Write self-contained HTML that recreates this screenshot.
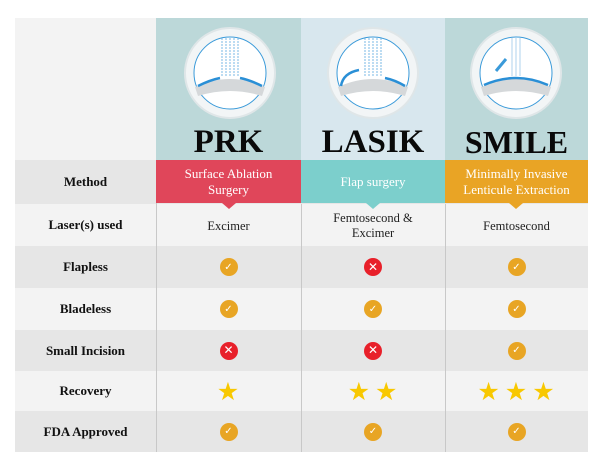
<!DOCTYPE html>
<html><head><meta charset="utf-8"><style>
body{margin:0;width:600px;height:465px;background:#fff;position:relative;overflow:hidden;font-family:"Liberation Serif",serif}
.a{position:absolute;box-sizing:border-box}
.lab{left:15px;width:141px;display:flex;align-items:center;justify-content:center;font-weight:bold;font-size:13px;color:#111}
.c{display:flex;align-items:center;justify-content:center;font-size:12.5px;color:#222;text-align:center;line-height:15px}
.t{font-weight:bold;font-size:33px;color:#0a0a0a;text-align:center;top:124px;letter-spacing:0px}
.chk{width:18px;height:18px;border-radius:50%;background:#e8a524;color:#fff;font-size:10px;display:flex;align-items:center;justify-content:center}
.x{width:18px;height:18px;border-radius:50%;background:#e8202a;color:#fff;font-size:12px;display:flex;align-items:center;justify-content:center;font-family:"DejaVu Sans",sans-serif}
.st{color:#f8c800;font-size:25px;font-family:"DejaVu Sans",sans-serif;letter-spacing:5px}
.vl{width:1px;background:#c8c8c8;top:204px;height:248px}
.box{color:#fff;font-size:13px;line-height:16px}
</style></head><body>
<div class="a" style="left:15px;top:18px;width:141px;height:142px;background:#f3f3f3"></div>
<div class="a" style="left:156px;top:18px;width:145px;height:142px;background:#bcd8d9"></div>
<div class="a" style="left:301px;top:18px;width:144px;height:142px;background:#d8e7ee"></div>
<div class="a" style="left:445px;top:18px;width:143px;height:142px;background:#bcd8d9"></div>
<div class="a" style="left:15px;top:160px;width:573px;height:44px;background:#e6e6e6"></div>
<div class="a" style="left:15px;top:204px;width:573px;height:42px;background:#f3f3f3"></div>
<div class="a" style="left:15px;top:246px;width:573px;height:42px;background:#e6e6e6"></div>
<div class="a" style="left:15px;top:288px;width:573px;height:42px;background:#f3f3f3"></div>
<div class="a" style="left:15px;top:330px;width:573px;height:41px;background:#e6e6e6"></div>
<div class="a" style="left:15px;top:371px;width:573px;height:40px;background:#f3f3f3"></div>
<div class="a" style="left:15px;top:411px;width:573px;height:41px;background:#e6e6e6"></div>
<div class="a vl" style="left:156px;top:160px;height:292px"></div>
<div class="a vl" style="left:301px"></div>
<div class="a vl" style="left:445px"></div>
<svg class="a" style="left:0;top:0" width="600" height="160">
<defs><g id="eye">
<circle r="45" fill="#f2f5f6" stroke="#dfe6e8" stroke-width="2"/>
<circle r="36" fill="#fff" stroke="#3a9ad9" stroke-width="1"/>
<path d="M-35,14 Q0,-2 35,14 L32,23 Q0,13 -32,23Z" fill="#d5d8da"/>
</g></defs>
<g transform="translate(230,73)"><use href="#eye"/><path d="M-32,13 Q-20,7 -10,5 M10,5 Q20,7 32,13" stroke="#2a8fd6" stroke-width="2.5" fill="none"/><path d="M-8,-35 V3 M-4,-35 V3 M0,-35 V3 M4,-35 V3 M8,-35 V3" stroke="#5aa8e0" stroke-dasharray="2 1" stroke-width="0.8"/></g>
<g transform="translate(373,73)"><use href="#eye"/><path d="M-32,13 Q-30,0 -14,-3 M12,5 Q22,7 32,13" stroke="#2a8fd6" stroke-width="2.5" fill="none"/><path d="M-8,-35 V3 M-4,-35 V3 M0,-35 V3 M4,-35 V3 M8,-35 V3" stroke="#5aa8e0" stroke-dasharray="2 1" stroke-width="0.8"/></g>
<g transform="translate(516,73)"><use href="#eye"/><path d="M-32,12 Q0,-2 32,12" stroke="#2a8fd6" stroke-width="2.5" fill="none"/><path d="M-20,-2 L-10,-14" stroke="#3a9ad9" stroke-width="3"/><path d="M-4,-35 V3 M0,-35 V3 M4,-35 V3" stroke="#9cc8e8" stroke-width="0.8"/></g>
</svg>
<div class="a t" style="left:156px;width:145px">PRK</div>
<div class="a t" style="left:301px;width:144px">LASIK</div>
<div class="a t" style="left:445px;width:143px;font-size:32px">SMILE</div>
<div class="a c box" style="left:156px;top:160px;width:145px;height:43px;background:#e0465a">Surface Ablation<br>Surgery</div>
<div class="a c box" style="left:301px;top:160px;width:144px;height:43px;background:#7ccfcc">Flap surgery</div>
<div class="a c box" style="left:445px;top:160px;width:143px;height:43px;background:#e9a425">Minimally Invasive<br>Lenticule Extraction</div>
<div class="a" style="left:222px;top:203px;border:7px solid transparent;border-top:6px solid #e0465a;border-bottom:0"></div>
<div class="a" style="left:366px;top:203px;border:7px solid transparent;border-top:6px solid #7ccfcc;border-bottom:0"></div>
<div class="a" style="left:509px;top:203px;border:7px solid transparent;border-top:6px solid #e9a425;border-bottom:0"></div>
<div class="a lab" style="top:160px;height:44px">Method</div>
<div class="a lab" style="top:204px;height:42px">Laser(s) used</div>
<div class="a lab" style="top:246px;height:42px">Flapless</div>
<div class="a lab" style="top:288px;height:42px">Bladeless</div>
<div class="a lab" style="top:330px;height:41px">Small Incision</div>
<div class="a lab" style="top:371px;height:40px">Recovery</div>
<div class="a lab" style="top:411px;height:41px">FDA Approved</div>
<div class="a c" style="left:156px;top:206px;width:145px;height:40px">Excimer</div>
<div class="a c" style="left:301px;top:206px;width:144px;height:40px">Femtosecond &amp;<br>Excimer</div>
<div class="a c" style="left:445px;top:206px;width:143px;height:40px">Femtosecond</div>
<div class="a c" style="left:156px;top:246px;width:145px;height:42px"><div class="chk">✓</div></div>
<div class="a c" style="left:301px;top:246px;width:144px;height:42px"><div class="x">✕</div></div>
<div class="a c" style="left:445px;top:246px;width:143px;height:42px"><div class="chk">✓</div></div>
<div class="a c" style="left:156px;top:288px;width:145px;height:42px"><div class="chk">✓</div></div>
<div class="a c" style="left:301px;top:288px;width:144px;height:42px"><div class="chk">✓</div></div>
<div class="a c" style="left:445px;top:288px;width:143px;height:42px"><div class="chk">✓</div></div>
<div class="a c" style="left:156px;top:330px;width:145px;height:41px"><div class="x">✕</div></div>
<div class="a c" style="left:301px;top:330px;width:144px;height:41px"><div class="x">✕</div></div>
<div class="a c" style="left:445px;top:330px;width:143px;height:41px"><div class="chk">✓</div></div>
<div class="a c st" style="left:158px;top:371px;width:145px;height:40px">★</div>
<div class="a c st" style="left:303px;top:371px;width:144px;height:40px">★★</div>
<div class="a c st" style="left:447px;top:371px;width:143px;height:40px">★★★</div>
<div class="a c" style="left:156px;top:411px;width:145px;height:41px"><div class="chk">✓</div></div>
<div class="a c" style="left:301px;top:411px;width:144px;height:41px"><div class="chk">✓</div></div>
<div class="a c" style="left:445px;top:411px;width:143px;height:41px"><div class="chk">✓</div></div>
</body></html>
